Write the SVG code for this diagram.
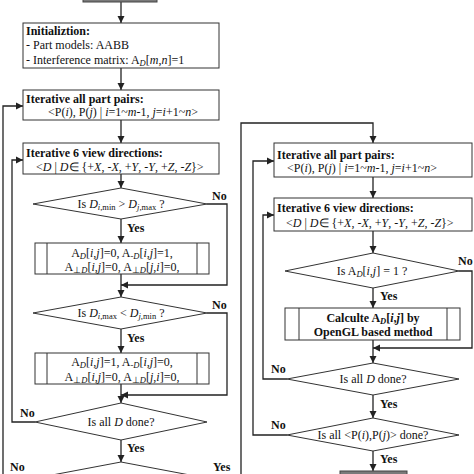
<svg xmlns="http://www.w3.org/2000/svg" width="474" height="474" viewBox="0 0 474 474">
<defs>
<marker id="ah" markerWidth="8" markerHeight="8" refX="7" refY="4" orient="auto" markerUnits="userSpaceOnUse">
<path d="M0,0.5 L7,4 L0,7.5 z" fill="#222"/>
</marker>
<style>
text{font-family:"Liberation Serif","Times New Roman",serif;font-size:12px;fill:#111}
.b{font-weight:bold}
.c{text-anchor:middle}
.box{fill:#fff;stroke:#333;stroke-width:1}
.term{fill:#7a7a7a;stroke:#444;stroke-width:1}
.ln{fill:none;stroke:#222;stroke-width:1.3}
.ar{fill:none;stroke:#222;stroke-width:1.3;marker-end:url(#ah)}
.i{font-style:italic}
.s{font-size:8.5px}
</style>
</defs>
<rect width="474" height="474" fill="#fff"/>

<g id="connectors">
<line class="ar" x1="121" y1="2" x2="121" y2="23"/>
<line class="ar" x1="121" y1="68" x2="121" y2="90"/>
<line class="ar" x1="121" y1="120" x2="121" y2="143"/>
<line class="ar" x1="121" y1="174" x2="121" y2="188"/>
<line class="ar" x1="121" y1="219" x2="121" y2="243"/>
<polyline class="ar" points="207,204 227,204 227,285 121,285"/>
<line class="ar" x1="121" y1="274" x2="121" y2="297"/>
<polyline class="ar" points="207,313 227,313 227,395 121,395"/>
<line class="ar" x1="121" y1="329" x2="121" y2="353"/>
<line class="ar" x1="121" y1="384" x2="121" y2="403"/>
<polyline class="ar" points="35,422 12,422 12,160 23,160"/>
<line class="ar" x1="121" y1="440" x2="121" y2="462"/>
<polyline class="ar" points="3,480 3,106 23,106"/>
<polyline class="ar" points="241,480 241,123 373,123 373,143"/>
<line class="ar" x1="373" y1="177" x2="373" y2="198"/>
<line class="ar" x1="373" y1="231" x2="373" y2="253"/>
<line class="ar" x1="373" y1="288" x2="373" y2="308"/>
<polyline class="ar" points="459,271 472,271 472,348 373,348"/>
<line class="ar" x1="373" y1="340" x2="373" y2="363"/>
<line class="ar" x1="373" y1="395" x2="373" y2="418"/>
<line class="ar" x1="373" y1="451" x2="373" y2="471"/>
<polyline class="ar" points="287,379 263,379 263,215 274,215"/>
<polyline class="ar" points="287,435 253,435 253,161 274,161"/>
</g>

<g id="start">
<rect class="term" x="83" y="-10" width="74" height="12"/>
</g>

<g id="init">
<rect class="box" x="23" y="23" width="196" height="45"/>
<text class="b" x="26" y="35">Initializtion:</text>
<text x="26" y="49">- Part models: AABB</text>
<text x="26" y="64">- Interference matrix: A<tspan class="s i" dy="2">D</tspan><tspan dy="-2">[</tspan><tspan class="i">m</tspan>,<tspan class="i">n</tspan>]=1</text>
</g>

<g id="pairs-left">
<rect class="box" x="23" y="90" width="196" height="30"/>
<text class="b" x="26" y="103">Iterative all part pairs:</text>
<text x="48" y="116">&lt;P(<tspan class="i">i</tspan>), P(<tspan class="i">j</tspan>) | <tspan class="i">i</tspan>=1~<tspan class="i">m</tspan>-1, <tspan class="i">j</tspan>=<tspan class="i">i</tspan>+1~<tspan class="i">n</tspan>&gt;</text>
</g>

<g id="dirs-left">
<rect class="box" x="23" y="143" width="196" height="31"/>
<text class="b" x="26" y="157">Iterative 6 view directions:</text>
<text x="36" y="171">&lt;<tspan class="i">D</tspan> | <tspan class="i">D</tspan>∈ {+<tspan class="i">X</tspan>, -<tspan class="i">X</tspan>, +<tspan class="i">Y</tspan>, -<tspan class="i">Y</tspan>, +<tspan class="i">Z</tspan>, -<tspan class="i">Z</tspan>}&gt;</text>
</g>

<g id="dec1">
<polygon class="box" points="121,188 207,204 121,219 33,204"/>
<text class="c" x="121" y="208">Is <tspan class="i">D</tspan><tspan class="s" dy="2"><tspan class="i">i</tspan>,min</tspan><tspan dy="-2"> &gt; </tspan><tspan class="i">D</tspan><tspan class="s" dy="2"><tspan class="i">j</tspan>,max</tspan><tspan dy="-2"> ?</tspan></text>
<text class="b" x="212" y="200">No</text>
<text class="b" x="127" y="232">Yes</text>
</g>

<g id="proc1">
<rect class="box" x="35" y="243" width="174" height="31"/>
<line class="box" x1="47" y1="243" x2="47" y2="274"/>
<line class="box" x1="197" y1="243" x2="197" y2="274"/>
<text class="c" x="122" y="257">A<tspan class="s i" dy="2">D</tspan><tspan dy="-2">[</tspan><tspan class="i">i</tspan>,<tspan class="i">j</tspan>]=0, A<tspan class="s" dy="2">-<tspan class="i">D</tspan></tspan><tspan dy="-2">[</tspan><tspan class="i">i</tspan>,<tspan class="i">j</tspan>]=1,</text>
<text class="c" x="122" y="271">A<tspan class="s" dy="2">⊥<tspan class="i">D</tspan></tspan><tspan dy="-2">[</tspan><tspan class="i">i</tspan>,<tspan class="i">j</tspan>]=0, A<tspan class="s" dy="2">⊥<tspan class="i">D</tspan></tspan><tspan dy="-2">[</tspan><tspan class="i">j</tspan>,<tspan class="i">i</tspan>]=0,</text>
</g>

<g id="dec2">
<polygon class="box" points="121,297 207,313 121,329 33,313"/>
<text class="c" x="121" y="317">Is <tspan class="i">D</tspan><tspan class="s" dy="2"><tspan class="i">i</tspan>,max</tspan><tspan dy="-2"> &lt; </tspan><tspan class="i">D</tspan><tspan class="s" dy="2"><tspan class="i">j</tspan>,min</tspan><tspan dy="-2"> ?</tspan></text>
<text class="b" x="212" y="309">No</text>
<text class="b" x="127" y="342">Yes</text>
</g>

<g id="proc2">
<rect class="box" x="35" y="353" width="174" height="31"/>
<line class="box" x1="47" y1="353" x2="47" y2="384"/>
<line class="box" x1="197" y1="353" x2="197" y2="384"/>
<text class="c" x="122" y="366">A<tspan class="s i" dy="2">D</tspan><tspan dy="-2">[</tspan><tspan class="i">i</tspan>,<tspan class="i">j</tspan>]=1, A<tspan class="s" dy="2">-<tspan class="i">D</tspan></tspan><tspan dy="-2">[</tspan><tspan class="i">i</tspan>,<tspan class="i">j</tspan>]=0,</text>
<text class="c" x="122" y="381">A<tspan class="s" dy="2">⊥<tspan class="i">D</tspan></tspan><tspan dy="-2">[</tspan><tspan class="i">i</tspan>,<tspan class="i">j</tspan>]=0, A<tspan class="s" dy="2">⊥<tspan class="i">D</tspan></tspan><tspan dy="-2">[</tspan><tspan class="i">j</tspan>,<tspan class="i">i</tspan>]=0,</text>
</g>

<g id="dec3">
<polygon class="box" points="121,403 207,422 121,440 35,422"/>
<text class="c" x="121" y="426">Is all <tspan class="i">D</tspan> done?</text>
<text class="b" x="20" y="417">No</text>
<text class="b" x="127" y="452">Yes</text>
</g>

<g id="dec4">
<polygon class="box" points="121,462 211,479 121,496 31,479"/>
<text class="b" x="10" y="471">No</text>
<text class="b" x="213" y="471">Yes</text>
</g>

<g id="pairs-right">
<rect class="box" x="274" y="143" width="198" height="34"/>
<text class="b" x="277" y="159">Iterative all part pairs:</text>
<text x="287" y="172">&lt;P(<tspan class="i">i</tspan>), P(<tspan class="i">j</tspan>) | <tspan class="i">i</tspan>=1~<tspan class="i">m</tspan>-1, <tspan class="i">j</tspan>=<tspan class="i">i</tspan>+1~<tspan class="i">n</tspan>&gt;</text>
</g>

<g id="dirs-right">
<rect class="box" x="274" y="198" width="198" height="33"/>
<text class="b" x="277" y="212">Iterative 6 view directions:</text>
<text x="286" y="227">&lt;<tspan class="i">D</tspan> | <tspan class="i">D</tspan>∈ {+<tspan class="i">X</tspan>, -<tspan class="i">X</tspan>, +<tspan class="i">Y</tspan>, -<tspan class="i">Y</tspan>, +<tspan class="i">Z</tspan>, -<tspan class="i">Z</tspan>}&gt;</text>
</g>

<g id="decR1">
<polygon class="box" points="373,253 459,271 373,288 285,271"/>
<text class="c" x="372" y="275">Is A<tspan class="s i" dy="2">D</tspan><tspan dy="-2">[</tspan><tspan class="i">i</tspan>,<tspan class="i">j</tspan>] = 1 ?</text>
<text class="b" x="458" y="265">No</text>
<text class="b" x="380" y="300">Yes</text>
</g>

<g id="procR">
<rect class="box" x="285" y="308" width="175" height="32"/>
<line class="box" x1="299" y1="308" x2="299" y2="340"/>
<line class="box" x1="447" y1="308" x2="447" y2="340"/>
<text class="c b" x="373" y="322">Calculte A<tspan class="s i" dy="2">D</tspan><tspan dy="-2">[</tspan><tspan class="i">i</tspan>,<tspan class="i">j</tspan>] by</text>
<text class="c b" x="373" y="336">OpenGL based method</text>
</g>

<g id="decR2">
<polygon class="box" points="373,363 459,379 373,395 287,379"/>
<text class="c" x="373" y="383">Is all <tspan class="i">D</tspan> done?</text>
<text class="b" x="271" y="373">No</text>
<text class="b" x="380" y="408">Yes</text>
</g>

<g id="decR3">
<polygon class="box" points="373,418 459,435 373,451 287,435"/>
<text class="c" x="373" y="439">Is all &lt;P(<tspan class="i">i</tspan>),P(<tspan class="i">j</tspan>)&gt; done?</text>
<text class="b" x="271" y="429">No</text>
<text class="b" x="380" y="463">Yes</text>
</g>

<g id="end">
<rect class="term" x="340" y="471" width="67" height="12"/>
</g>
</svg>
